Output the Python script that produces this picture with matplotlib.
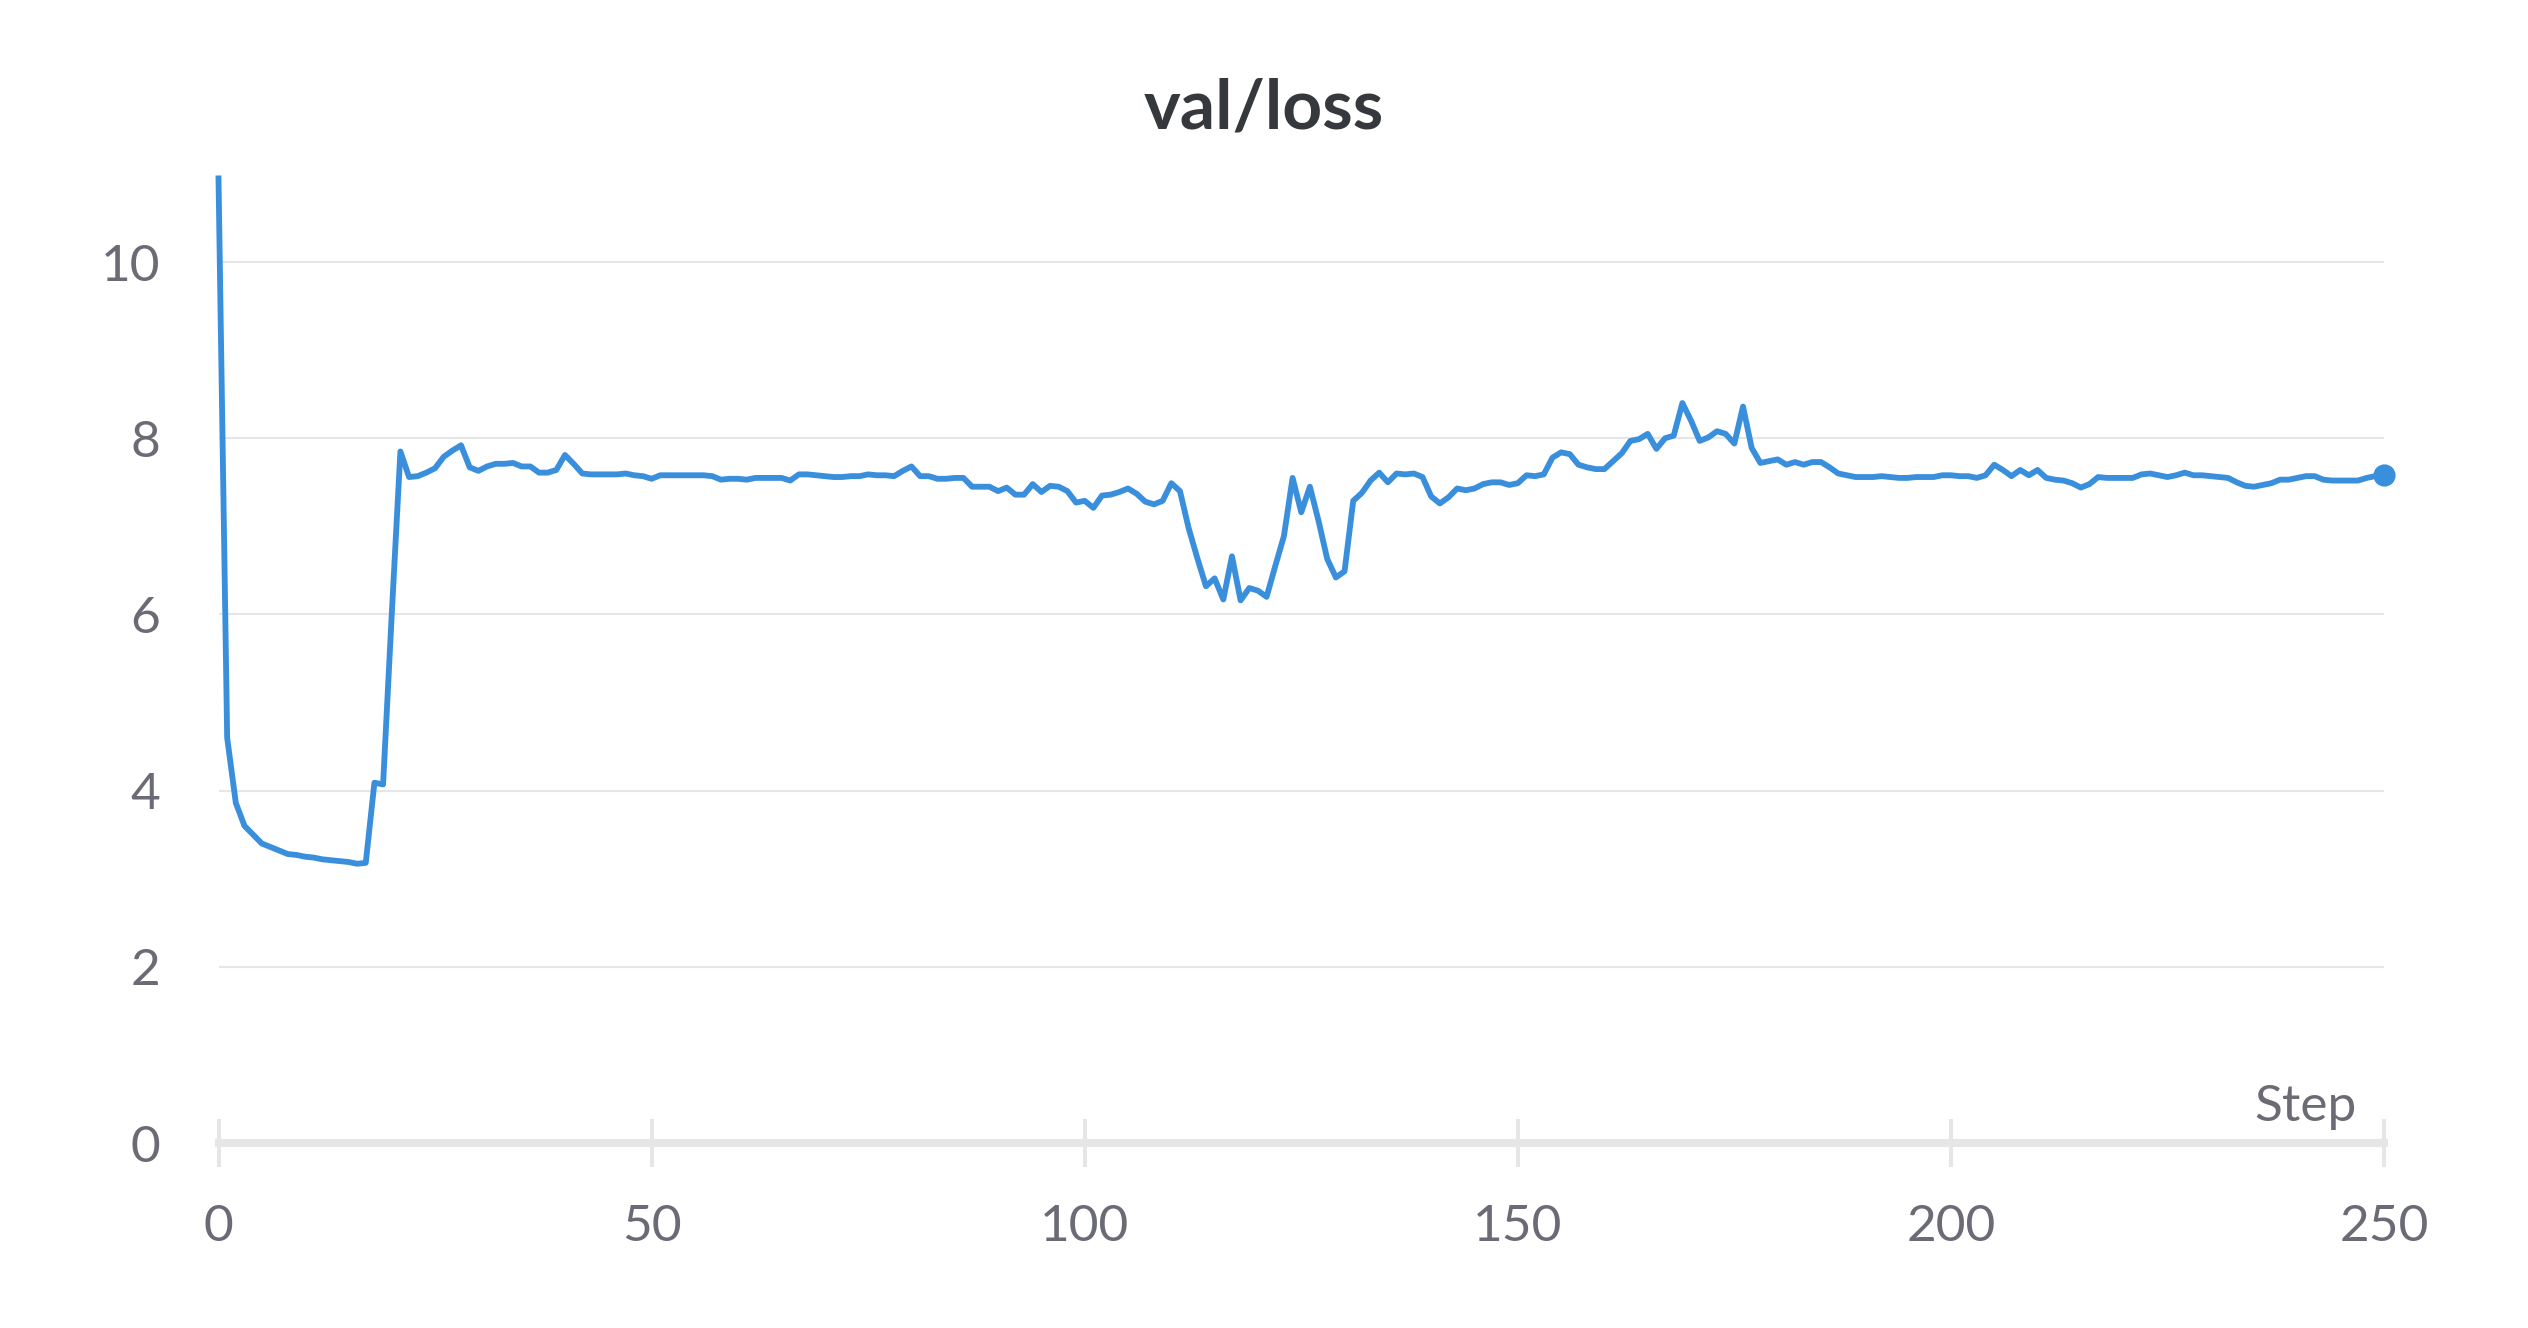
import numpy as np
import matplotlib
matplotlib.use("Agg")
from matplotlib import pyplot as plt

# val/loss per step
steps = np.arange(0, 251)
loss = [
    10.95, 4.60, 3.86, 3.60, 3.50, 3.40, 3.36, 3.32, 3.28, 3.27,
    3.25, 3.24, 3.22, 3.21, 3.20, 3.19, 3.17, 3.18, 4.09, 4.07,
    6.00, 7.85, 7.56, 7.57, 7.61, 7.66, 7.79, 7.86, 7.92, 7.67,
    7.63, 7.68, 7.71, 7.71, 7.72, 7.68, 7.68, 7.61, 7.61, 7.64,
    7.81, 7.71, 7.60, 7.59, 7.59, 7.59, 7.59, 7.60, 7.58, 7.57,
    7.54, 7.58, 7.58, 7.58, 7.58, 7.58, 7.58, 7.57, 7.53, 7.54,
    7.54, 7.53, 7.55, 7.55, 7.55, 7.55, 7.52, 7.59, 7.59, 7.58,
    7.57, 7.56, 7.56, 7.57, 7.57, 7.59, 7.58, 7.58, 7.57, 7.63,
    7.68, 7.57, 7.57, 7.54, 7.54, 7.55, 7.55, 7.45, 7.45, 7.45,
    7.40, 7.44, 7.36, 7.36, 7.48, 7.39, 7.46, 7.45, 7.40, 7.27,
    7.29, 7.21, 7.35, 7.36, 7.39, 7.43, 7.37, 7.28, 7.25, 7.29,
    7.49, 7.40, 6.98, 6.64, 6.32, 6.41, 6.17, 6.66, 6.16, 6.30,
    6.27, 6.20, 6.55, 6.89, 7.55, 7.16, 7.45, 7.06, 6.63, 6.42,
    6.49, 7.29, 7.38, 7.52, 7.61, 7.50, 7.60, 7.59, 7.60, 7.56,
    7.34, 7.26, 7.33, 7.43, 7.41, 7.43, 7.48, 7.50, 7.50, 7.47,
    7.49, 7.58, 7.57, 7.59, 7.78, 7.84, 7.82, 7.70, 7.67, 7.65,
    7.65, 7.74, 7.83, 7.97, 7.99, 8.05, 7.88, 8.00, 8.03, 8.40,
    8.20, 7.97, 8.01, 8.08, 8.05, 7.94, 8.36, 7.89, 7.72, 7.74,
    7.76, 7.70, 7.73, 7.70, 7.73, 7.73, 7.67, 7.60, 7.58, 7.56,
    7.56, 7.56, 7.57, 7.56, 7.55, 7.55, 7.56, 7.56, 7.56, 7.58,
    7.58, 7.57, 7.57, 7.55, 7.58, 7.70, 7.64, 7.57, 7.64, 7.58,
    7.64, 7.55, 7.53, 7.52, 7.49, 7.44, 7.48, 7.56, 7.55, 7.55,
    7.55, 7.55, 7.59, 7.60, 7.58, 7.56, 7.58, 7.61, 7.58, 7.58,
    7.57, 7.56, 7.55, 7.50, 7.46, 7.45, 7.47, 7.49, 7.53, 7.53,
    7.55, 7.57, 7.57, 7.53, 7.52, 7.52, 7.52, 7.52, 7.55, 7.57,
    7.58,
]
xticks = [0, 50, 100, 150, 200, 250]
yticks = [0, 2, 4, 6, 8, 10]

W, H, DPI = 2528, 1328, 200
blue = "#3a8fdd"
grey_txt = "#6b6b76"
grid_c = "#e6e6e6"

plt.rcParams["font.family"] = ["Lato", "DejaVu Sans"]

fig = plt.figure(figsize=(W / DPI, H / DPI), dpi=DPI)
fig.patch.set_facecolor("white")

x0, x1 = 218.5, 2384
y0, ytop = 1143, 174  # pixel rows of y=0 and y=11
ax = fig.add_axes([x0 / W, 1 - y0 / H, (x1 - x0) / W, (y0 - ytop) / H])

ax.plot(steps, loss, color=blue, lw=2.1, clip_on=False, zorder=3)
ax.plot(steps[-1], loss[-1], "o", color=blue, ms=7, clip_on=False, zorder=4)

ax.set_xlim(0, 250)
ax.set_ylim(0, 11)
ax.set_xticks(xticks)
ax.set_yticks(yticks)
ax.yaxis.grid(True, color=grid_c, lw=0.75)
ax.set_axisbelow(True)

for s in ["top", "right", "left"]:
    ax.spines[s].set_visible(False)
ax.spines["bottom"].set_color(grid_c)
ax.spines["bottom"].set_linewidth(2.9)

ax.tick_params(axis="x", direction="inout", length=17, width=1.45, color=grid_c,
               labelsize=18.5, labelcolor=grey_txt, pad=13.5)
ax.tick_params(axis="y", length=0, labelsize=18.5, labelcolor=grey_txt, pad=21)

fig.text(0.5, 1 - 128 / H, "val/loss", ha="center", va="baseline",
         fontsize=25, fontweight="bold", color="#35383d")
fig.text(2357 / W, 1 - 1121 / H, "Step", ha="right", va="baseline",
         fontsize=18.5, color=grey_txt)

fig.savefig("out.png", dpi=DPI, facecolor="white")
